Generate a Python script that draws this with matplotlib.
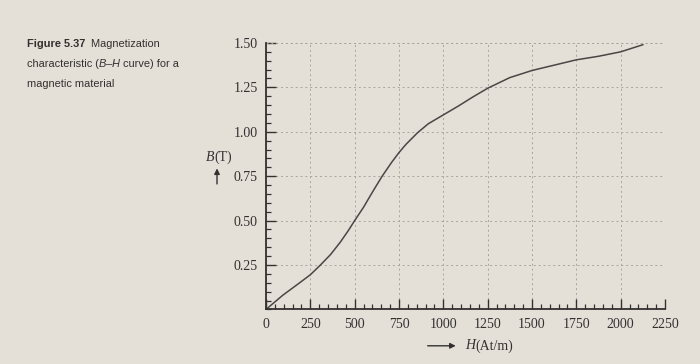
import numpy as np
import matplotlib
matplotlib.use("Agg")
import matplotlib.pyplot as plt
from matplotlib.patches import FancyArrowPatch
from matplotlib.ticker import MultipleLocator

# B-H curve
h_field = [0, 95, 190, 250, 307, 365, 420, 465, 500, 550, 600, 655, 710, 750,
           790, 855, 915, 1000, 1085, 1165, 1250, 1375, 1500, 1625, 1750, 1875,
           2000, 2125]
b_flux = [0.0, 0.08, 0.15, 0.195, 0.25, 0.31, 0.38, 0.445, 0.50, 0.575, 0.66,
          0.75, 0.83, 0.883, 0.93, 0.995, 1.045, 1.095, 1.145, 1.195, 1.245,
          1.305, 1.345, 1.375, 1.405, 1.425, 1.45, 1.49]

x_ticks = [0, 250, 500, 750, 1000, 1250, 1500, 1750, 2000, 2250]
y_ticks = [0.25, 0.50, 0.75, 1.00, 1.25, 1.50]

paper = "#e4e0d8"
ink = "#333130"
grid_col = "#a8a49e"
serif = ["Liberation Serif", "DejaVu Serif"]
narrow = ["Liberation Sans Narrow", "Liberation Sans", "DejaVu Sans"]

fig = plt.figure(figsize=(7.0, 3.64), dpi=100, facecolor=paper)
ax = fig.add_axes([0.38, 0.150, 0.57, 0.732])
ax.set_facecolor(paper)

ax.plot(h_field, b_flux, color="#4a4644", linewidth=1.1)

ax.set_xlim(0, 2250)
ax.set_ylim(0, 1.5)
ax.set_xticks(x_ticks)
ax.set_yticks(y_ticks)
ax.set_xticklabels([str(v) for v in x_ticks], family=serif, fontsize=10, color=ink)
ax.set_yticklabels([f"{v:.2f}" for v in y_ticks], family=serif, fontsize=10, color=ink)
ax.xaxis.set_minor_locator(MultipleLocator(50))
ax.yaxis.set_minor_locator(MultipleLocator(0.05))
ax.tick_params(which="major", direction="in", length=7, width=1.0, color=ink, pad=6)
ax.tick_params(which="minor", direction="in", length=3.5, width=0.9, color=ink)

ax.grid(True, which="major", linestyle=(0, (2, 3)), color=grid_col, linewidth=0.7)
for side in ("top", "right"):
    ax.spines[side].set_visible(False)
ax.axhline(1.5, color=grid_col, linestyle=(0, (2, 3)), linewidth=0.7)
ax.axvline(2250, color=grid_col, linestyle=(0, (2, 3)), linewidth=0.7)
for side in ("left", "bottom"):
    ax.spines[side].set_color(ink)
    ax.spines[side].set_linewidth(1.3)

renderer = fig.canvas.get_renderer()


def text_run(x, y, pieces, family, size):
    # place text pieces one after another on a line (figure coords)
    for s, style, weight in pieces:
        t = fig.text(x, y, s, family=family, fontsize=size, style=style,
                     fontweight=weight, color=ink, va="center", ha="left")
        bb = t.get_window_extent(renderer)
        x += bb.width / fig.bbox.width


# axis labels with arrows, as in the book
text_run(0.294, 0.568, [("B", "italic", "normal"), ("(T)", "normal", "normal")], serif, 10)
fig.add_artist(FancyArrowPatch(
    (0.310, 0.487), (0.310, 0.545), transform=fig.transFigure,
    arrowstyle="-|>", mutation_scale=8, color=ink, linewidth=1.0))
text_run(0.665, 0.050, [("H", "italic", "normal"), ("(At/m)", "normal", "normal")], serif, 10)
fig.add_artist(FancyArrowPatch(
    (0.607, 0.050), (0.655, 0.050), transform=fig.transFigure,
    arrowstyle="-|>", mutation_scale=8, color=ink, linewidth=1.0))

# caption
cap = 7.9
text_run(0.038, 0.880, [("Figure 5.37", "normal", "bold"), ("  Magnetization", "normal", "normal")], narrow, cap)
text_run(0.038, 0.823, [("characteristic (", "normal", "normal"), ("B", "italic", "normal"),
                        ("–", "normal", "normal"), ("H", "italic", "normal"),
                        (" curve) for a", "normal", "normal")], narrow, cap)
text_run(0.038, 0.768, [("magnetic material", "normal", "normal")], narrow, cap)

fig.savefig("out.png", dpi=100, facecolor=paper)
